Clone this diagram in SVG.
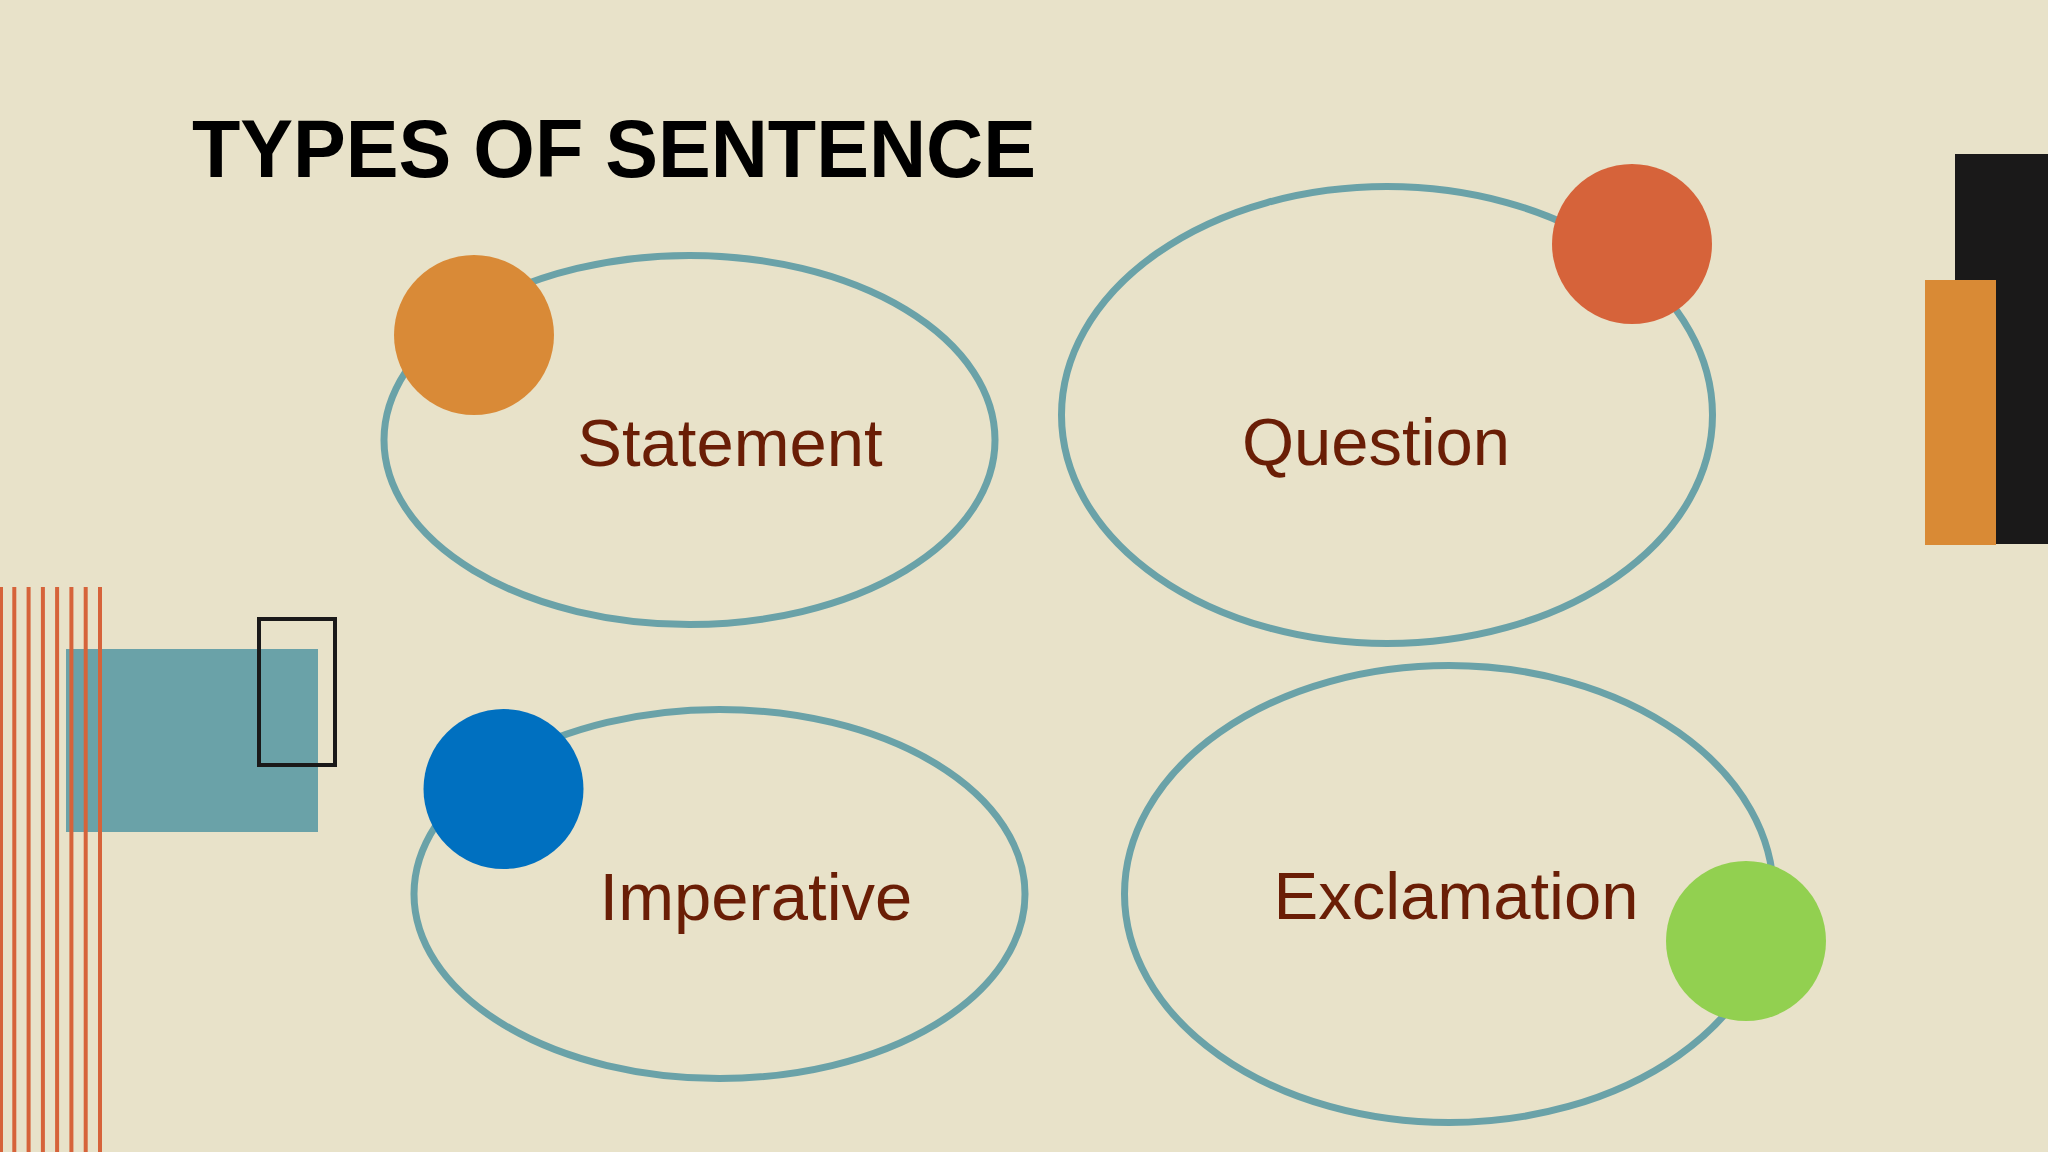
<svg xmlns="http://www.w3.org/2000/svg" width="2048" height="1152" viewBox="0 0 2048 1152">
  <style>
    .ring { fill: none; stroke: #6aa2a8; stroke-width: 7; }
    .label { font-family: "Liberation Sans", Arial, sans-serif; font-size: 67px; fill: #6a1e06; }
    .title { font-family: "Liberation Sans", Arial, sans-serif; font-size: 82px; font-weight: bold; fill: #000000; }
    .stripe { stroke: #d6633a; stroke-width: 4; }
  </style>
  <rect x="0" y="0" width="2048" height="1152" fill="#e8e2c9"/>

  <g id="decor-left">
    <rect x="66" y="649" width="252" height="183" fill="#6aa2a8"/>
    <g class="stripe">
      <line x1="1" y1="587" x2="1" y2="1152"/>
      <line x1="14.3" y1="587" x2="14.3" y2="1152"/>
      <line x1="28.6" y1="587" x2="28.6" y2="1152"/>
      <line x1="42.9" y1="587" x2="42.9" y2="1152"/>
      <line x1="57.1" y1="587" x2="57.1" y2="1152"/>
      <line x1="71.4" y1="587" x2="71.4" y2="1152"/>
      <line x1="85.7" y1="587" x2="85.7" y2="1152"/>
      <line x1="100" y1="587" x2="100" y2="1152"/>
    </g>
    <rect x="259" y="619" width="76" height="146" fill="none" stroke="#1a1919" stroke-width="4"/>
  </g>

  <g id="decor-right">
    <rect x="1955" y="154" width="93" height="390" fill="#1a1919"/>
    <rect x="1925" y="280" width="71" height="265" fill="#d98a35"/>
  </g>

  <g id="title">
    <text class="title" x="192" y="177" textLength="844" lengthAdjust="spacingAndGlyphs">TYPES OF SENTENCE</text>
  </g>

  <g id="connectors"></g>

  <g id="node-statement">
    <ellipse class="ring" cx="689.5" cy="440" rx="305.5" ry="184.5"/>
    <circle cx="474" cy="335" r="80" fill="#d98a37"/>
    <text class="label" x="730" y="466" text-anchor="middle">Statement</text>
  </g>

  <g id="node-question">
    <ellipse class="ring" cx="1387" cy="415" rx="325.5" ry="228.5"/>
    <circle cx="1632" cy="244" r="80" fill="#d6633a"/>
    <text class="label" x="1376" y="465" text-anchor="middle">Question</text>
  </g>

  <g id="node-imperative">
    <ellipse class="ring" cx="719.5" cy="894" rx="305.5" ry="184.5"/>
    <circle cx="503.5" cy="789" r="80" fill="#0070c0"/>
    <text class="label" x="756" y="920" text-anchor="middle">Imperative</text>
  </g>

  <g id="node-exclamation">
    <ellipse class="ring" cx="1449" cy="894" rx="324.5" ry="228.5"/>
    <circle cx="1746" cy="941" r="80" fill="#92d050"/>
    <text class="label" x="1456" y="919" text-anchor="middle">Exclamation</text>
  </g>
</svg>
